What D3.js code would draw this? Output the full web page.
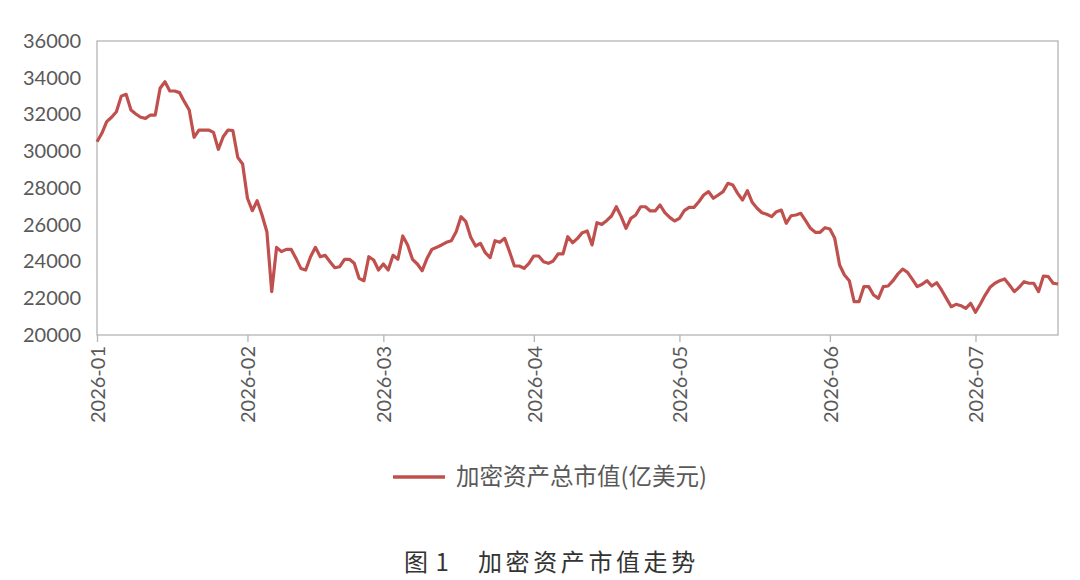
<!DOCTYPE html>
<html>
<head>
<meta charset="utf-8">
<script src="https://cdn.jsdelivr.net/npm/d3@7"></script>
<style>
    body { margin: 0; background: #fff; }
    .axis text { font-family: Lato, "Open Sans", sans-serif; font-size: 20px; fill: #595959; }
</style>
</head>
<body>
<div id="chart"></div>
<script>
// daily values, 2026-01-01 .. 2026-07-18
var startDate = "2026-01-01"
var endDate = "2026-07-18"
var values = [
    30520, 30977, 31610, 31850, 32150, 33000, 33100, 32245, 32030, 31850,
    31790, 31970, 31970, 33425, 33785, 33280, 33280, 33190, 32700, 32245,
    30760, 31155, 31155, 31155, 31030, 30105, 30790, 31155, 31120, 29670,
    29305, 27440, 26765, 27310, 26530, 25620, 22360, 24770, 24535, 24660,
    24660, 24170, 23625, 23535, 24260, 24770, 24260, 24335, 23990, 23660,
    23715, 24120, 24120, 23900, 23085, 22955, 24260, 24080, 23535, 23865,
    23535, 24335, 24120, 25390, 24900, 24120, 23865, 23500, 24170, 24660,
    24770, 24900, 25045, 25130, 25620, 26440, 26165, 25315, 24845, 24990,
    24480, 24210, 25130, 25045, 25260, 24535, 23755, 23755, 23630, 23900,
    24300, 24300, 23990, 23900, 24030, 24410, 24410, 25350, 25020, 25260,
    25570, 25660, 24900, 26110, 26020, 26220, 26475, 26980, 26440, 25805,
    26350, 26530, 26980, 26980, 26750, 26750, 27075, 26655, 26400, 26205,
    26350, 26765, 26945, 26945, 27255, 27620, 27800, 27440, 27620, 27800,
    28255, 28165, 27710, 27350, 27855, 27220, 26895, 26655, 26570, 26440,
    26710, 26800, 26080, 26490, 26530, 26620, 26220, 25805, 25590, 25590,
    25840, 25770, 25260, 23810, 23265, 22955, 21815, 21815, 22630, 22630,
    22175, 21995, 22630, 22665, 22955, 23320, 23590, 23410, 23030, 22630,
    22760, 22955, 22665, 22845, 22450, 21995, 21540, 21670, 21595, 21450,
    21725, 21235, 21685, 22175, 22595, 22815, 22955, 23050, 22720, 22360,
    22595, 22900, 22815, 22815, 22360, 23210, 23175, 22815, 22775
]
var yTicks = [20000, 22000, 24000, 26000, 28000, 30000, 32000, 34000, 36000]
var seriesName = "加密资产总市值(亿美元)"
var figLabel = "图 1"
var figTitle = "加密资产市值走势"

var parseDate = d3.timeParse("%Y-%m-%d")
var dates = d3.timeDay.range(parseDate(startDate), d3.timeDay.offset(parseDate(endDate), 1))
var data = dates.map(function (d, i) {
    return { date: d, value: values[i] }
})

var width = 1080, height = 580
var margin = { top: 41, right: 22, bottom: 245, left: 97 }
var w = width - margin.left - margin.right
var h = height - margin.top - margin.bottom
var lineColor = "#c0504d"
var frameColor = "#b4b4b4"

var svg = d3.select("#chart").append("svg")
    .attr("width", width)
    .attr("height", height)

var g = svg.append("g")
    .attr("transform", "translate(" + margin.left + "," + margin.top + ")")

var x = d3.scaleTime()
    .domain([parseDate(startDate), parseDate(endDate)])
    .range([0, w])

var y = d3.scaleLinear()
    .domain([yTicks[0], yTicks[yTicks.length - 1]])
    .range([h, 0])

// frame around the plot
g.append("rect")
    .attr("width", w)
    .attr("height", h)
    .attr("fill", "none")
    .attr("stroke", frameColor)
    .attr("stroke-width", 1.3)

var xAxis = d3.axisBottom(x)
    .ticks(d3.timeMonth.every(1))
    .tickFormat(d3.timeFormat("%Y-%m"))
    .tickSize(7)

var xGroup = g.append("g")
    .attr("class", "axis")
    .attr("transform", "translate(0," + h + ")")
    .call(xAxis)
xGroup.select(".domain").remove()
xGroup.selectAll(".tick line").attr("stroke", frameColor).attr("stroke-width", 1.3)
xGroup.selectAll("text")
    .attr("transform", "rotate(-90)")
    .attr("text-anchor", "end")
    .attr("x", -11)
    .attr("y", 0)
    .attr("dy", "0.36em")

var yAxis = d3.axisLeft(y)
    .tickValues(yTicks)
    .tickFormat(d3.format("d"))
    .tickSize(0)
    .tickPadding(16)

var yGroup = g.append("g")
    .attr("class", "axis")
    .call(yAxis)
yGroup.select(".domain").remove()

var line = d3.line()
    .x(function (d) { return x(d.date) })
    .y(function (d) { return y(d.value) })

g.append("path")
    .datum(data)
    .attr("fill", "none")
    .attr("stroke", lineColor)
    .attr("stroke-width", 3.2)
    .attr("stroke-linejoin", "round")
    .attr("d", line)

// legend
var legend = svg.append("g").attr("transform", "translate(393,477)")
legend.append("line")
    .attr("x1", 0).attr("x2", 52)
    .attr("stroke", lineColor)
    .attr("stroke-width", 3.5)
legend.append("text")
    .attr("x", 63)
    .attr("dy", "0.36em")
    .style("font-family", "'Noto Sans CJK SC', sans-serif")
    .style("font-size", "23.5px")
    .style("fill", "#595959")
    .text(seriesName)

// figure caption
var caption = svg.append("g").attr("transform", "translate(0,562)")
caption.append("text")
    .attr("x", 404)
    .attr("dy", "0.36em")
    .style("font-family", "'Noto Sans CJK SC', sans-serif")
    .style("font-size", "24px")
    .style("fill", "#333")
    .style("letter-spacing", "1px")
    .text(figLabel)
caption.append("text")
    .attr("x", 478)
    .attr("dy", "0.36em")
    .style("font-family", "'Noto Sans CJK SC', sans-serif")
    .style("font-size", "24px")
    .style("fill", "#333")
    .style("letter-spacing", "3.6px")
    .text(figTitle)
</script>
</body>
</html>
